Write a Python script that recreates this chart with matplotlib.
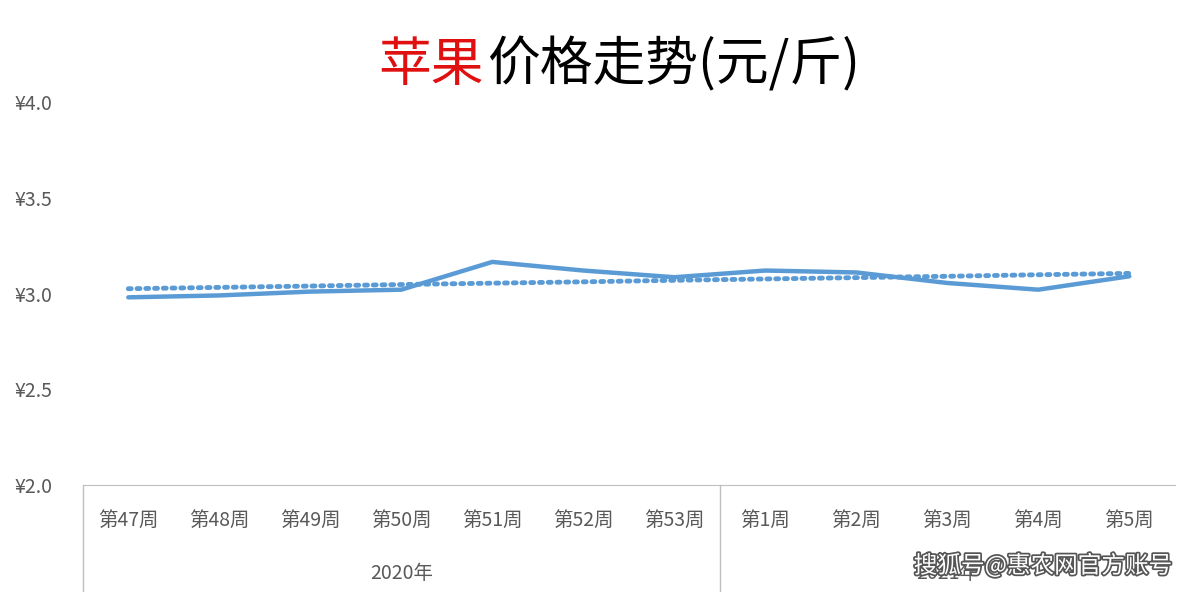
import matplotlib.pyplot as plt
import matplotlib.patheffects as pe
from matplotlib.lines import Line2D

plt.rcParams['font.family'] = ['Noto Sans CJK SC', 'DejaVu Sans']

weeks = ['第47周', '第48周', '第49周', '第50周', '第51周', '第52周', '第53周',
         '第1周', '第2周', '第3周', '第4周', '第5周']
years = ['2020年', '2021年']
year_sizes = [7, 5]
price = [2.98, 2.99, 3.01, 3.02, 3.165, 3.12, 3.085, 3.12, 3.11, 3.055, 3.02, 3.09]
trend = [3.025, 3.032, 3.039, 3.047, 3.054, 3.061, 3.069, 3.076, 3.083, 3.090, 3.098, 3.105]
yticks = [2.0, 2.5, 3.0, 3.5, 4.0]

fig = plt.figure(figsize=(12, 5.92), dpi=100)
ax = fig.add_axes([0.069, 0.1807, 0.91, 0.647])
x = list(range(len(weeks)))
ax.plot(x, price, color='#5b9bd5', lw=3.2, solid_capstyle='round')
ax.plot(x, trend, color='#5b9bd5', lw=3.5, linestyle=(0, (0.6, 1.2)), dash_capstyle='round')
ax.set_xlim(-0.5, len(weeks) - 0.5)
ax.set_ylim(2.0, 4.0)
ax.set_yticks(yticks)
ax.set_yticklabels([f'¥{v:.1f}' for v in yticks], color='#595959', fontsize=14)
ax.tick_params(axis='y', length=0, pad=22)
ax.set_xticks([])
for s in ['top', 'right', 'left']:
    ax.spines[s].set_visible(False)
ax.spines['bottom'].set_color('#bfbfbf')

trans = ax.get_xaxis_transform()
for i, w in enumerate(weeks):
    ax.text(i, -0.092, w, transform=trans, ha='center', va='center', fontsize=14, color='#595959')
start = 0
edges = [-0.5]
for yr, n in zip(years, year_sizes):
    ax.text(start + n / 2 - 0.5, -0.23, yr, transform=trans, ha='center', va='center',
            fontsize=14, color='#595959')
    start += n
    edges.append(start - 0.5)
for e in edges[:-1]:
    ax.add_line(Line2D([e, e], [0, -0.5], transform=trans, color='#bfbfbf', lw=1, clip_on=False))

fig.text(0.315, 0.89, '苹果', ha='left', va='center', fontsize=38, color='#e01010')
fig.text(0.406, 0.89, '价格走势(元/斤)', ha='left', va='center', fontsize=38, color='black')
fig.text(0.977, 0.045, '搜狐号@惠农网官方账号', ha='right', va='center', fontsize=17, color='white',
         path_effects=[pe.withStroke(linewidth=2.5, foreground='#555555')])

fig.savefig('out.png', dpi=100)
